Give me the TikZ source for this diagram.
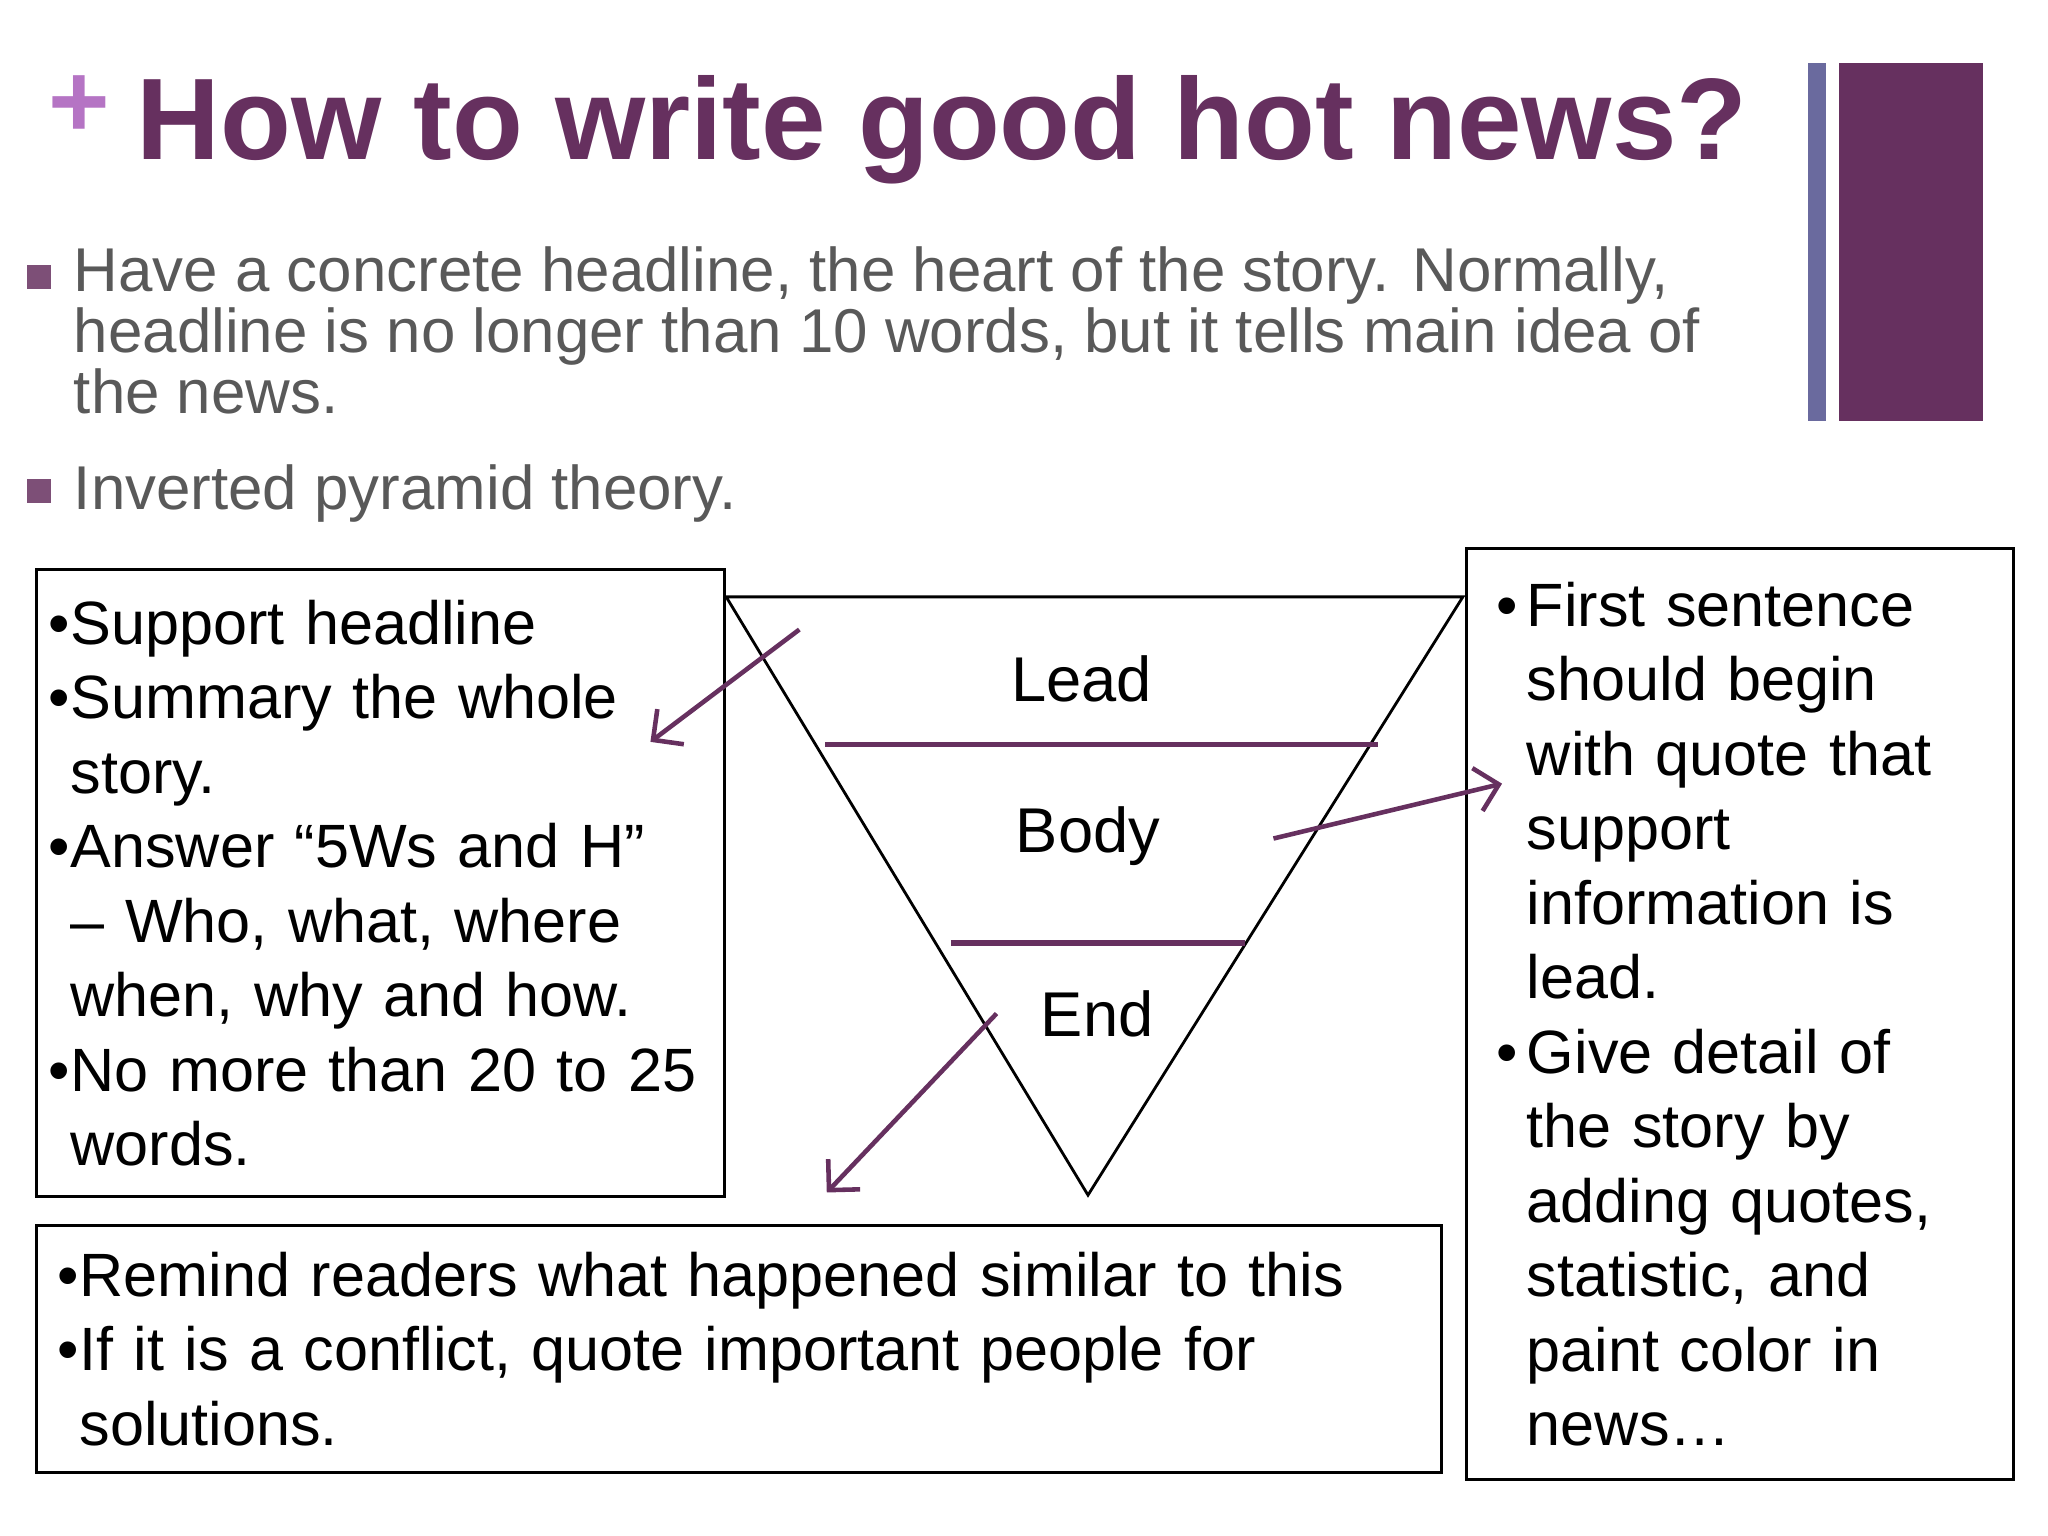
\documentclass[tikz,border=0pt]{standalone}
\usepackage{fontspec}
\setmainfont{Liberation Sans}
\usetikzlibrary{arrows.meta}
\definecolor{plum}{HTML}{66305F}
\definecolor{lilac}{HTML}{B574C4}
\definecolor{slate}{HTML}{6A6A9E}
\definecolor{greytext}{HTML}{595959}
\tikzset{
  box/.style={draw, thick, align=left, anchor=north west, font=\fontsize{17.4}{21.2}\selectfont},
  level/.style={font=\fontsize{18}{21}\selectfont},
  pointer/.style={plum, line width=1.3pt, -{Straight Barb[length=2.2mm]}},
  cut/.style={plum, line width=1.5pt}
}
\newcommand{\bul}{\makebox[0.22cm][l]{•}}
\newcommand{\rbul}{\makebox[0.3cm][l]{•}}
\begin{document}
\begin{tikzpicture}[x=0.01306cm,y=-0.01306cm]
  \useasboundingbox (0,0) rectangle (1568,1176);
  % title
  \node[lilac, anchor=base, font=\bfseries\fontsize{30}{30}\selectfont] (plus) at (61,105) {+};
  \node[plum, anchor=base west, inner sep=0, font=\bfseries\fontsize{33}{33}\selectfont] (title) at (104,122) {How to write good hot news?};
  \fill[slate] (1384,48) rectangle (1398,322);
  \fill[plum] (1408,48) rectangle (1518,322);
  % bullets
  \fill[plum!85] (21,203) rectangle (39,221);
  \fill[plum!85] (21,367) rectangle (39,385);
  \node[greytext, anchor=north west, inner sep=0, align=left, font=\fontsize{17.6}{15}\selectfont] (intro) at (56,188)
    {Have a concrete headline, the heart of the story. Normally,\\headline is no longer than 10 words, but it tells main idea of\\the news.};
  \node[greytext, anchor=base west, inner sep=0, font=\fontsize{17.6}{15}\selectfont] (theory) at (56,390) {Inverted pyramid theory.};
  % pyramid
  \coordinate (tl) at (556,457);
  \coordinate (tr) at (1120,457);
  \coordinate (tip) at (833,915);
  \draw[thick] (tl) -- (tr) -- (tip) -- cycle;
  \draw[cut] (632,570) -- (1055,570);
  \draw[cut] (728,722) -- (953,722);
  \node[level] (lead) at (828,520) {Lead};
  \node[level] (body) at (833,640) {Body};
  \node[level] (end) at (840,776) {End};
  % boxes
  \node[box, minimum width=6.88cm, minimum height=6.27cm, text width=6.64cm, inner ysep=0.21cm, inner xsep=0.12cm] (leadbox) at (27,435)
    {\bul Support headline\\\bul Summary the whole\\\phantom{\bul}story.\\\bul Answer “5Ws and H”\\\phantom{\bul}– Who, what, where\\\phantom{\bul}when, why and how.\\\mbox{\bul No more than 20 to 25}\\\phantom{\bul}words.};
  \node[box, minimum width=5.47cm, minimum height=9.31cm, text width=4.87cm, inner sep=0.3cm] (bodybox) at (1122,419)
    {\rbul First sentence\\\phantom{\rbul}should begin\\\phantom{\rbul}with quote that\\\phantom{\rbul}support\\\phantom{\rbul}information is\\\phantom{\rbul}lead.\\\rbul Give detail of\\\phantom{\rbul}the story by\\\phantom{\rbul}adding quotes,\\\phantom{\rbul}statistic, and\\\phantom{\rbul}paint color in\\\phantom{\rbul}news…};
  \node[box, minimum width=14.05cm, minimum height=2.47cm, text width=13.63cm, inner sep=0.21cm] (endbox) at (27,937)
    {\bul Remind readers what happened similar to this\\\bul If it is a conflict, quote important people for\\\phantom{\bul}solutions.};
  % pointers
  \coordinate (leadfrom) at (612,482);
  \coordinate (leadto) at (498,568);
  \coordinate (bodyfrom) at (975,642);
  \coordinate (bodyto) at (1150,600);
  \coordinate (endfrom) at (763,776);
  \coordinate (endto) at (633,913);
  \draw[pointer] (leadfrom) -- (leadto);
  \draw[pointer] (bodyfrom) -- (bodyto);
  \draw[pointer] (endfrom) -- (endto);
\end{tikzpicture}
\end{document}
